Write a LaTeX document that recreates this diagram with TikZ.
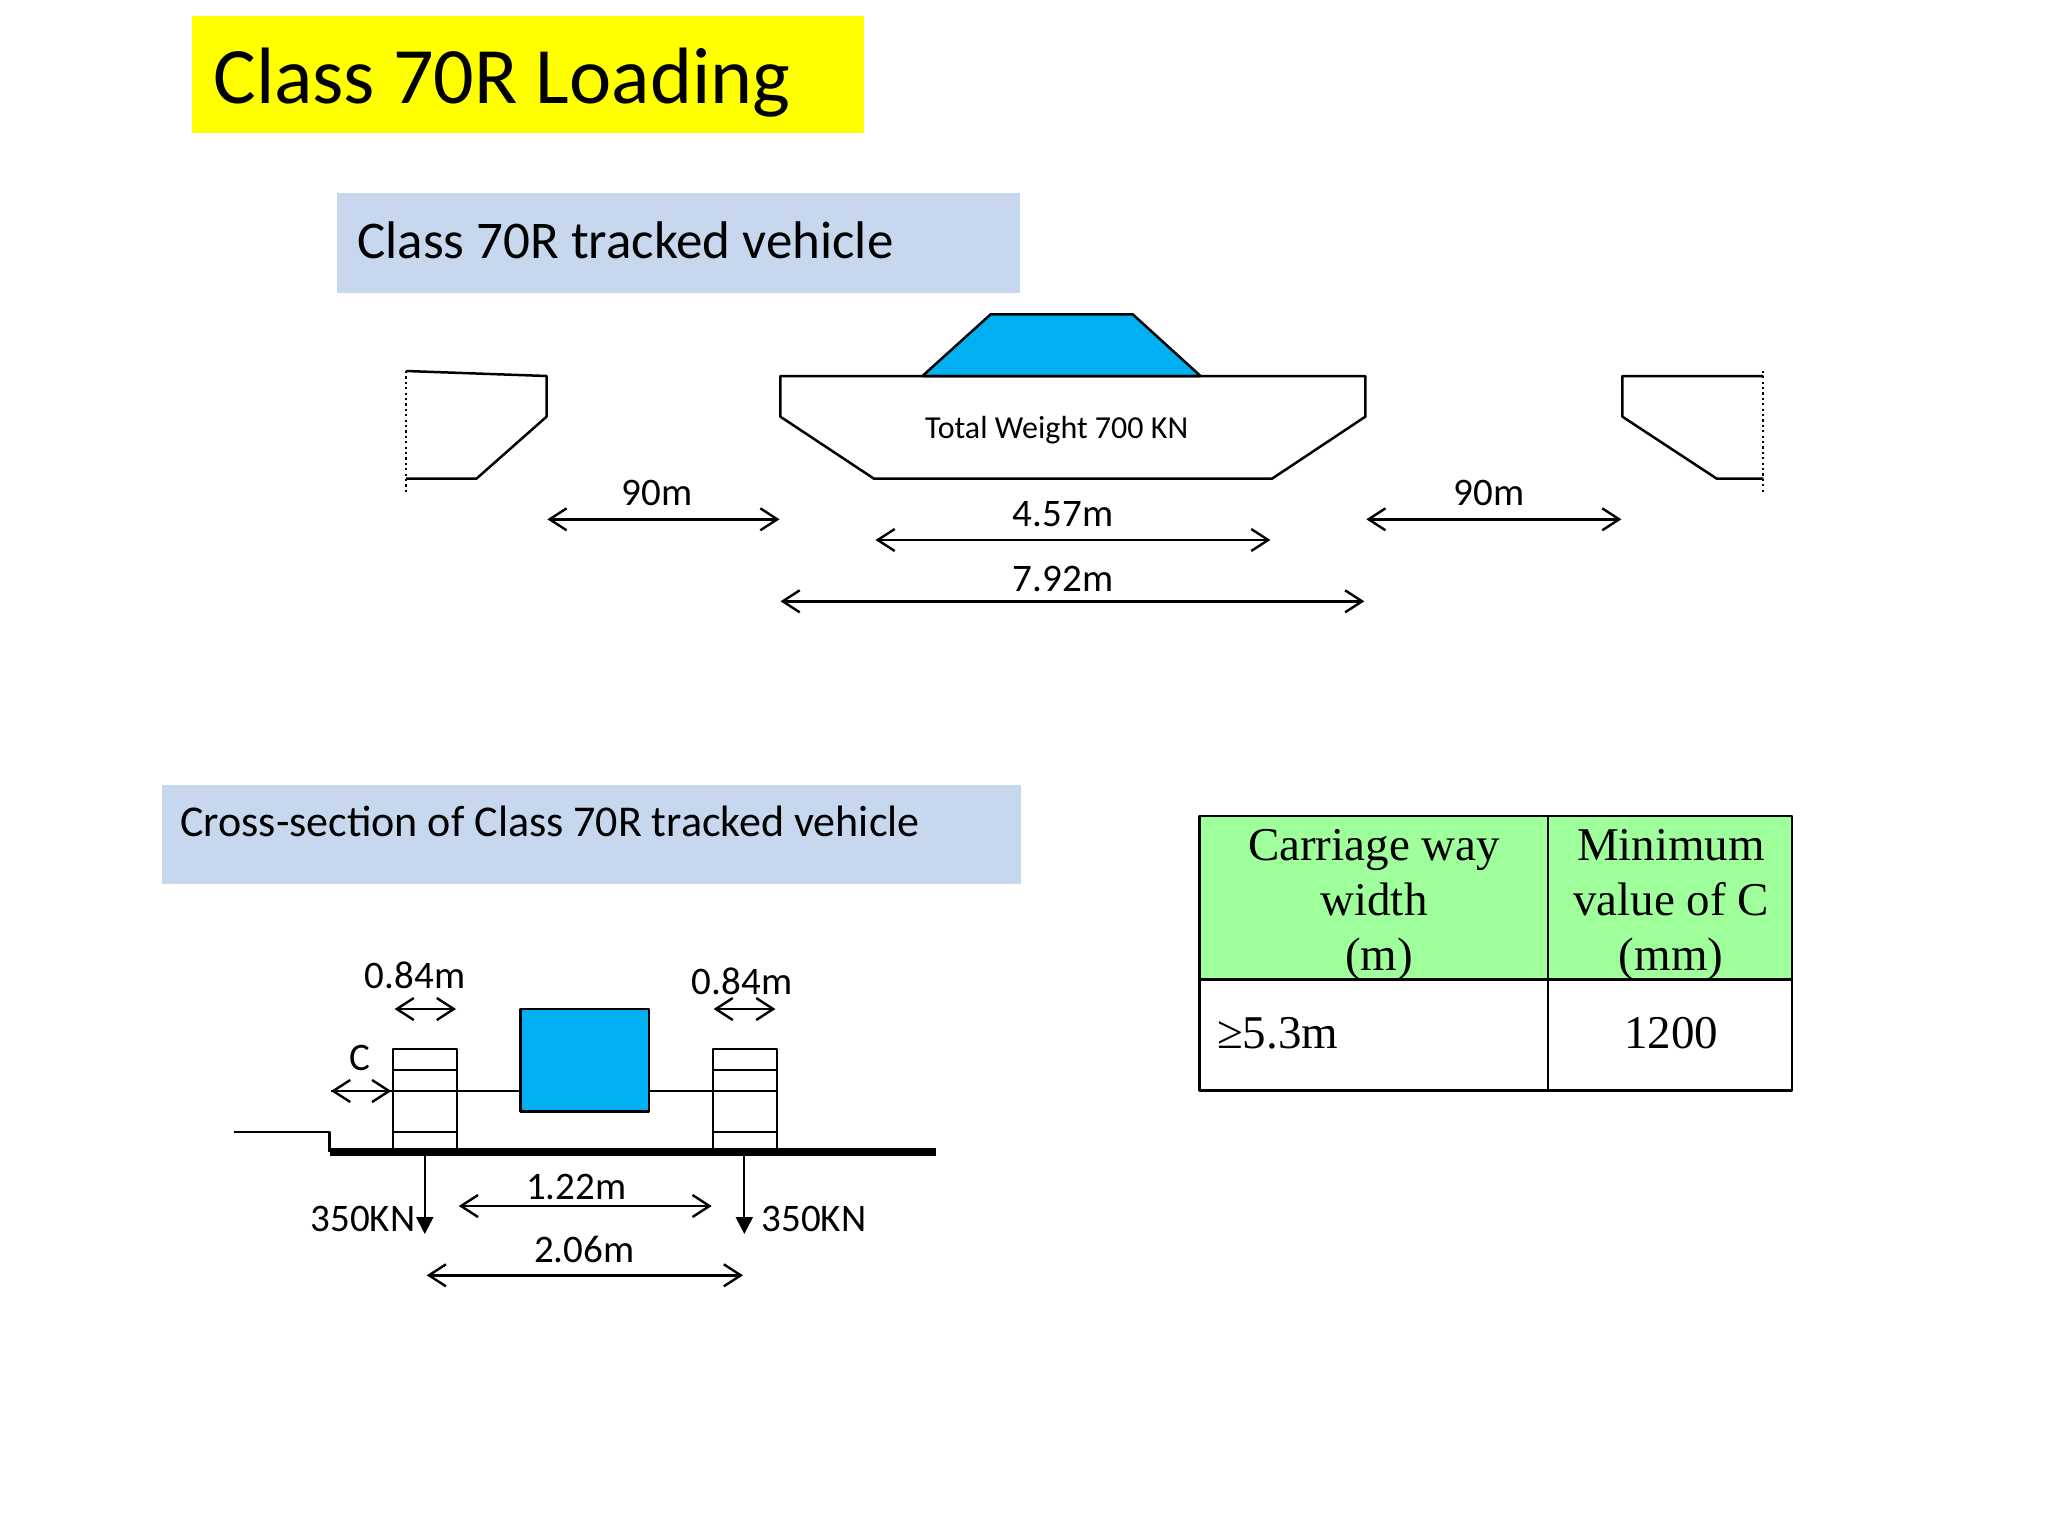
\documentclass[tikz,border=0pt]{standalone}
\usepackage{fontspec}
\setmainfont{Carlito}
\newfontfamily\tabfont{Liberation Serif}
\newfontfamily\symfont{DejaVu Sans}
\usetikzlibrary{arrows.meta}
\definecolor{titleyellow}{HTML}{FFFF00}
\definecolor{headblue}{HTML}{C6D7EE}
\definecolor{vehblue}{HTML}{00B0F0}
\definecolor{tabgreen}{HTML}{9FFF9B}
\tikzset{
  x=0.5pt,y=-0.5pt,
  outline/.style={draw=black,line width=1.25pt,line join=round},
  thin outline/.style={draw=black,line width=1.1pt,line join=round},
  dots/.style={draw=black,line width=0.9pt,dash pattern=on 1.1pt off 1.6pt},
  dim/.style={draw=black,line width=1.2pt,{Straight Barb[length=8.5pt,width=11pt,line width=1.2pt]}-{Straight Barb[length=8.5pt,width=11pt,line width=1.2pt]}},
  load/.style={draw=black,line width=1.1pt,-{Triangle[length=8.5pt,width=8.5pt]}},
  lbl/.style={anchor=base,inner sep=0pt,font=\fontsize{19.5}{22}\selectfont,text=black},
  banner/.style={inner sep=0pt,anchor=base west,text=black},
  tabtext/.style={anchor=base,inner sep=0pt,font=\tabfont\fontsize{23.5}{27}\selectfont,text=black},
}
\begin{document}
\begin{tikzpicture}
\useasboundingbox (0,0) rectangle (2048,1536);
\fill[white] (0,0) rectangle (2048,1536);
% banners
\fill[titleyellow] (192,16) rectangle (864,133);
\fill[headblue] (337,193) rectangle (1020,293);
\fill[headblue] (162,785) rectangle (1021,884);
\node[banner,font=\fontsize{40}{44}\selectfont] (title) at (213,104) {Class 70R Loading};
\node[banner,font=\fontsize{26.5}{30}\selectfont] (sub1) at (357,258) {Class 70R tracked vehicle};
\node[banner,font=\fontsize{22}{26}\selectfont] (sub2) at (180,836) {Cross-section of Class 70R tracked vehicle};
% top vehicle
\filldraw[outline,fill=vehblue] (922.4,376) -- (990.7,314.3) -- (1132.7,314.3) -- (1200.5,376) -- cycle;
\draw[outline] (406,371) -- (546.5,376) -- (546.5,416.7) -- (476.4,478.7) -- (406,478.7);
\draw[dots] (406,371) -- (406,493.3);
\draw[outline] (874,478.7) -- (780.4,416.7) -- (780.4,376) -- (1365.3,376) -- (1365.3,416.7) -- (1272,478.7) -- cycle;
\draw[outline] (1763.3,376) -- (1622.4,376) -- (1622.4,416.7) -- (1716.8,478.7) -- (1763.3,478.7);
\draw[dots] (1763.3,370.7) -- (1763.3,493.3);
% top dimensions
\coordinate (a1) at (547.4,519.3); \coordinate (a2) at (779.5,519.3);
\coordinate (b1) at (875.5,540); \coordinate (b2) at (1270.4,540);
\coordinate (c1) at (780.5,601.3); \coordinate (c2) at (1364.3,601.3);
\coordinate (d1) at (1366.3,519.3); \coordinate (d2) at (1621.4,519.3);
\draw[dim] (a1) -- (a2);
\draw[dim] (b1) -- (b2);
\draw[dim] (c1) -- (c2);
\draw[dim] (d1) -- (d2);
\node[lbl] (l90a) at (657,505) {90m};
\node[lbl] (l90b) at (1489,505) {90m};
\node[lbl] (l457) at (1063,526.7) {4.57m};
\node[lbl] (l792) at (1063,591) {7.92m};
\node[lbl,font=\fontsize{16}{19}\selectfont] (ltot) at (1056.6,438) {Total Weight 700 KN};
% cross-section
\foreach \xa/\xb in {393.2/456.9,712.7/776.9}{
  \draw[thin outline] (\xa,1152) -- (\xa,1049.3) -- (\xb,1049.3) -- (\xb,1152);
  \draw[thin outline] (\xa,1070) -- (\xb,1070);
  \draw[thin outline] (\xa,1132) -- (\xb,1132);
}
\draw[thin outline] (331,1091) -- (520.6,1091);
\draw[thin outline] (649,1091) -- (776.9,1091);
\filldraw[outline,fill=vehblue] (520.6,1009) rectangle (649,1111.7);
\draw[thin outline] (234,1132) -- (329.5,1132) -- (329.5,1152);
\fill[black] (329.5,1148.3) rectangle (936,1156.3);
\coordinate (la0) at (424.8,1156); \coordinate (la1) at (424.8,1234);
\coordinate (lb0) at (744.3,1156); \coordinate (lb1) at (744.3,1234);
\draw[load] (la0) -- (la1);
\draw[load] (lb0) -- (lb1);
\coordinate (e1) at (394.6,1009); \coordinate (e2) at (456,1009);
\coordinate (f1) at (713.6,1009); \coordinate (f2) at (775.4,1009);
\coordinate (g1) at (331,1091); \coordinate (g2) at (391.3,1091);
\coordinate (h1) at (458.8,1206); \coordinate (h2) at (711.7,1206);
\coordinate (i1) at (426.7,1275.3); \coordinate (i2) at (743,1275.3);
\draw[dim] (e1) -- (e2);
\draw[dim] (f1) -- (f2);
\draw[dim] (g1) -- (g2);
\draw[dim] (h1) -- (h2);
\draw[dim] (i1) -- (i2);
\node[lbl] (l084a) at (415,988.3) {0.84m};
\node[lbl] (l084b) at (742,994.3) {0.84m};
\node[lbl] (lc) at (359.7,1070.7) {C};
\node[lbl] (l350a) at (363,1231.7) {350KN};
\node[lbl] (l350b) at (814,1231.7) {350KN};
\node[lbl] (l122) at (576.3,1199.3) {1.22m};
\node[lbl] (l206) at (584.3,1262.7) {2.06m};
% table
\fill[tabgreen] (1199.6,816) rectangle (1791.8,979.3);
\draw[outline] (1199.6,816) rectangle (1791.8,1090.3);
\draw[outline] (1548.2,816) -- (1548.2,1090.3);
\draw[outline] (1199.6,979.3) -- (1791.8,979.3);
\node[tabtext] (t1) at (1374,860) {Carriage way};
\node[tabtext] (t2) at (1374,915) {width};
\node[tabtext] (t3) at (1379,970) {(m)};
\node[tabtext] (t4) at (1671,860) {Minimum};
\node[tabtext] (t5) at (1671,915) {value of C};
\node[tabtext] (t6) at (1671,970) {(mm)};
\node[tabtext,anchor=base west] (t7) at (1216.7,1048) {≥5.3m};
\node[tabtext] (t8) at (1671,1048) {1200};
\end{tikzpicture}
\end{document}
